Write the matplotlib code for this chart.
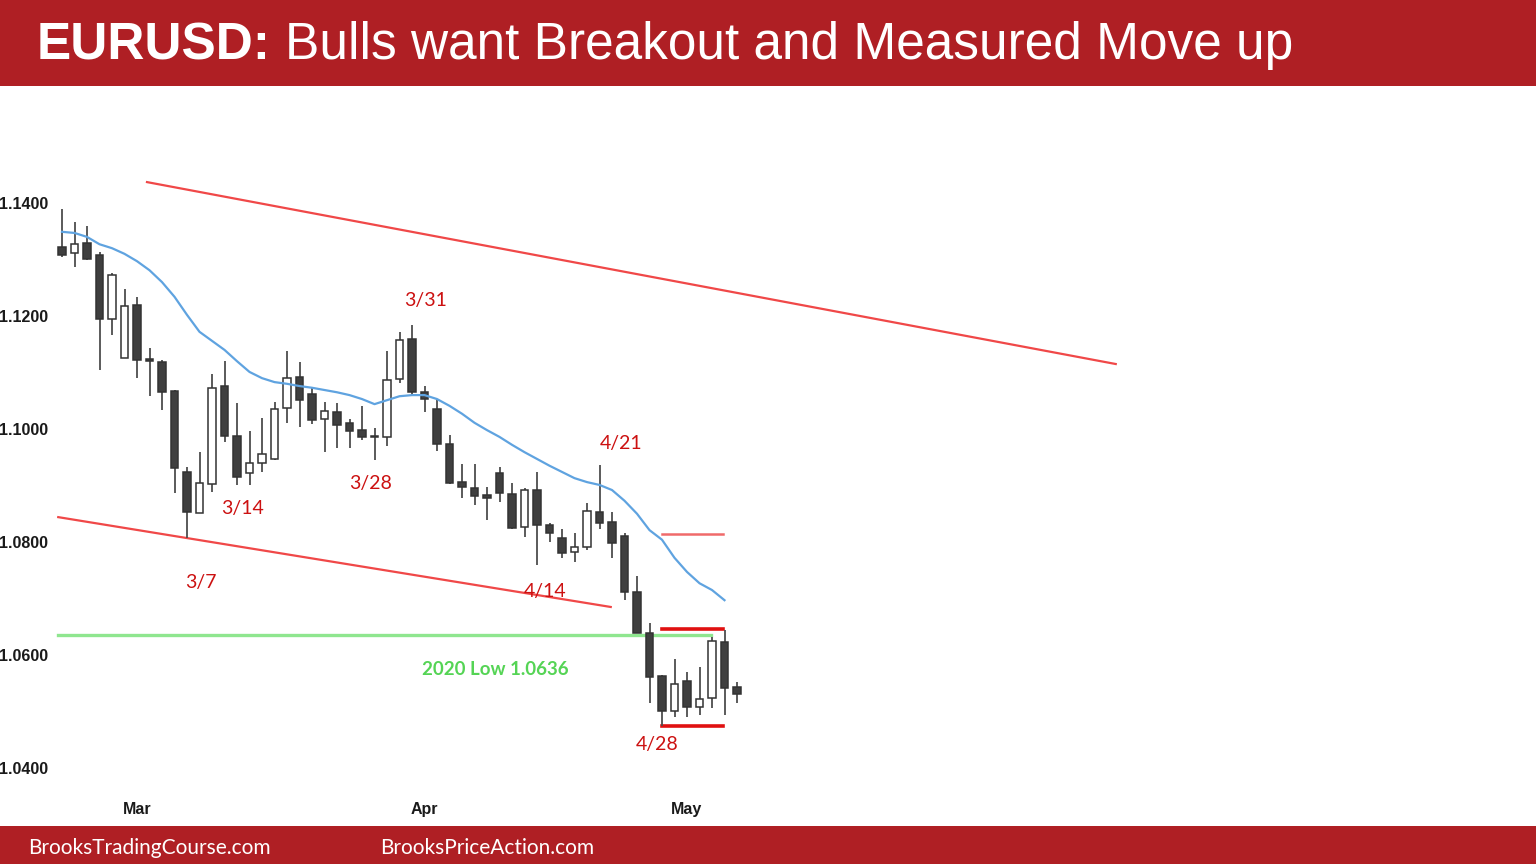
import numpy as np
import pandas as pd
import matplotlib
matplotlib.use("Agg")
from matplotlib import pyplot as plt

# daily EURUSD candles, 21 Feb - 6 May 2022
dates = pd.bdate_range("2022-02-21", "2022-05-06")
opens = [1.1322, 1.1312, 1.1329, 1.1308, 1.1195, 1.1126, 1.1219, 1.1124, 1.1119, 1.1067,
         1.0924, 1.0851, 1.0903, 1.1076, 1.0988, 1.0922, 1.0940, 1.0947, 1.1037, 1.1092,
         1.1062, 1.1018, 1.1030, 1.1011, 1.0998, 1.0987, 1.0986, 1.1088, 1.1159, 1.1065,
         1.1035, 1.0973, 1.0906, 1.0896, 1.0883, 1.0922, 1.0885, 1.0827, 1.0892, 1.0830,
         1.0807, 1.0782, 1.0791, 1.0853, 1.0835, 1.0811, 1.0712, 1.0639, 1.0563, 1.0501,
         1.0554, 1.0508, 1.0524, 1.0623, 1.0543]
highs = [1.1389, 1.1366, 1.1359, 1.1313, 1.1276, 1.1248, 1.1234, 1.1143, 1.1122, 1.1069,
         1.0933, 1.0959, 1.1097, 1.1120, 1.1046, 1.0996, 1.1019, 1.1048, 1.1138, 1.1119,
         1.1073, 1.1048, 1.1046, 1.1018, 1.1041, 1.1002, 1.1138, 1.1172, 1.1184, 1.1076,
         1.1053, 1.0989, 1.0938, 1.0938, 1.0897, 1.0933, 1.0904, 1.0896, 1.0924, 1.0834,
         1.0823, 1.0816, 1.0869, 1.0936, 1.0853, 1.0816, 1.0740, 1.0657, 1.0565, 1.0593,
         1.0570, 1.0579, 1.0632, 1.0644, 1.0552]
lows = [1.1304, 1.1287, 1.1300, 1.1104, 1.1166, 1.1126, 1.1090, 1.1058, 1.1034, 1.0887,
        1.0807, 1.0851, 1.0888, 1.0977, 1.0901, 1.0901, 1.0924, 1.0945, 1.1011, 1.1004,
        1.1009, 1.0959, 1.0966, 1.0966, 1.0981, 1.0945, 1.0970, 1.1081, 1.1060, 1.1030,
        1.0961, 1.0903, 1.0878, 1.0865, 1.0839, 1.0871, 1.0823, 1.0809, 1.0759, 1.0800,
        1.0772, 1.0765, 1.0786, 1.0823, 1.0772, 1.0697, 1.0639, 1.0515, 1.0474, 1.0490,
        1.0490, 1.0494, 1.0506, 1.0494, 1.0515]
closes = [1.1308, 1.1327, 1.1301, 1.1195, 1.1273, 1.1218, 1.1122, 1.1121, 1.1066, 1.0931,
          1.0853, 1.0904, 1.1073, 1.0988, 1.0915, 1.0940, 1.0956, 1.1035, 1.1090, 1.1051,
          1.1016, 1.1032, 1.1007, 1.0996, 1.0986, 1.0985, 1.1087, 1.1158, 1.1065, 1.1053,
          1.0973, 1.0904, 1.0897, 1.0881, 1.0878, 1.0887, 1.0825, 1.0892, 1.0830, 1.0816,
          1.0781, 1.0791, 1.0855, 1.0834, 1.0798, 1.0712, 1.0639, 1.0561, 1.0501, 1.0549,
          1.0508, 1.0522, 1.0625, 1.0542, 1.0531]
# 20 bar moving average (blue line)
ema20 = [1.1349, 1.1347, 1.1340, 1.1327, 1.1320, 1.1310, 1.1297, 1.1281, 1.1260, 1.1234,
         1.1202, 1.1172, 1.1156, 1.1140, 1.1120, 1.1101, 1.1090, 1.1083, 1.1080, 1.1076,
         1.1073, 1.1069, 1.1065, 1.1060, 1.1053, 1.1044, 1.1051, 1.1058, 1.1060, 1.1060,
         1.1053, 1.1041, 1.1027, 1.1011, 1.0998, 1.0986, 1.0972, 1.0959, 1.0947, 1.0935,
         1.0924, 1.0913, 1.0906, 1.0901, 1.0892, 1.0873, 1.0850, 1.0821, 1.0804, 1.0772,
         1.0747, 1.0727, 1.0715, 1.0697]

# drawn lines: (x0, y0, x1, y1) in bar index / price
upper_channel = (6.8, 1.1437, 84.3, 1.1115)
lower_channel = (-0.3, 1.0844, 43.9, 1.0685)
low_2020 = 1.0636
target_line = 1.0814
range_high = 1.0646
range_low = 1.0474

month_labels = ["Mar", "Apr", "May"]
yticks = [1.04, 1.06, 1.08, 1.10, 1.12, 1.14]

fig = plt.figure(figsize=(15.36, 8.64), dpi=100)
fig.patch.set_facecolor("white")

# header / footer bars
red = "#AF1F24"
fig.patches.append(plt.Rectangle((0, 1 - 86 / 864), 1, 86 / 864, transform=fig.transFigure,
                                 facecolor=red, edgecolor="none", zorder=0))
fig.patches.append(plt.Rectangle((0, 0), 1, 38 / 864, transform=fig.transFigure,
                                 facecolor=red, edgecolor="none", zorder=0))

ax = fig.add_axes([0, 38 / 864, 1, (826 - 86) / 864])
ax.set_facecolor("none")
for s in ax.spines.values():
    s.set_visible(False)

x = np.arange(len(dates))
o = np.array(opens); c = np.array(closes)
h = np.array(highs); l = np.array(lows)
up = c >= o

ax.vlines(x, l, h, color="#4d4d4d", lw=1.3, zorder=2)
body_lo = np.minimum(o, c)
body_h = np.maximum(np.abs(c - o), 0.00008)
ax.bar(x, body_h, bottom=body_lo, width=0.62,
       color=np.where(up, "white", "#3f3f3f"), edgecolor="#333333", linewidth=1.1, zorder=3)

ax.plot(x[:len(ema20)], ema20, color="#5fa3e0", lw=1.6, zorder=4)

ax.plot(upper_channel[::2], upper_channel[1::2], color="#f04848", lw=1.6, zorder=1)
ax.plot(lower_channel[::2], lower_channel[1::2], color="#f04848", lw=1.6, zorder=1)
ax.plot([-0.3, 51.9], [low_2020, low_2020], color="#8fe68f", lw=2.4, zorder=1)
ax.plot([48, 52.9], [target_line, target_line], color="#f06a6a", lw=1.8, zorder=1)
ax.plot([48, 52.9], [range_high, range_high], color="#e01010", lw=2.6, zorder=1)
ax.plot([48, 52.9], [range_low, range_low], color="#e01010", lw=2.6, zorder=1)

lab_kw = dict(color="#cc1111", fontsize=14, family="Lato", ha="center", va="center")
ax.text(29.12, 1.1228, "3/31", **lab_kw)
ax.text(14.48, 1.0860, "3/14", **lab_kw)
ax.text(24.72, 1.0904, "3/28", **lab_kw)
ax.text(11.12, 1.0729, "3/7", **lab_kw)
ax.text(44.72, 1.0974, "4/21", **lab_kw)
ax.text(38.64, 1.0712, "4/14", **lab_kw)
ax.text(47.6, 1.0441, "4/28", **lab_kw)
ax.text(34.64, 1.0575, "2020 Low 1.0636", color="#55d455", fontsize=13.5, family="Lato",
        fontweight="bold", ha="center", va="center")

# axes scale: bar 0 at 62px, 12.5px per bar; 1.14 at 203px, 5650px per 1.0
ax.set_xlim(-62 / 12.5, (1536 - 62) / 12.5)
ax.set_ylim(1.14 - (826 - 203) / 5650, 1.14 + (203 - 86) / 5650)

ax.set_yticks(yticks)
ax.set_yticklabels([f"{t:.4f}" for t in yticks])
ax.tick_params(axis="y", length=0, pad=-34.5, labelsize=11.5)
mpos = [list(dates).index(d) for d in [pd.Timestamp("2022-03-01"), pd.Timestamp("2022-04-01"),
                                       pd.Timestamp("2022-05-02")]]
ax.set_xticks(mpos)
ax.set_xticklabels(month_labels)
ax.tick_params(axis="x", length=0, pad=-17, labelsize=11.5)
for t in ax.get_xticklabels() + ax.get_yticklabels():
    t.set_fontweight("bold")
    t.set_family("Liberation Sans")
    t.set_color("#1a1a1a")

# title in two pieces (bold ticker + regular text)
t1 = fig.text(37 / 1536, 1 - 46 / 864, "EURUSD:", color="white", fontsize=37,
              fontweight="bold", family="Liberation Sans", va="center")
fig.canvas.draw()
bb = t1.get_window_extent()
fig.text((bb.x1 + 14) / 1536, 1 - 46 / 864, "Bulls want Breakout and Measured Move up",
         color="white", fontsize=37, family="Liberation Sans", va="center")

fig.text(28 / 1536, 16 / 864, "BrooksTradingCourse.com", color="white", fontsize=15,
         family="Lato", va="center")
fig.text(380 / 1536, 16 / 864, "BrooksPriceAction.com", color="white", fontsize=15,
         family="Lato", va="center")

fig.savefig("out.png", dpi=100)
